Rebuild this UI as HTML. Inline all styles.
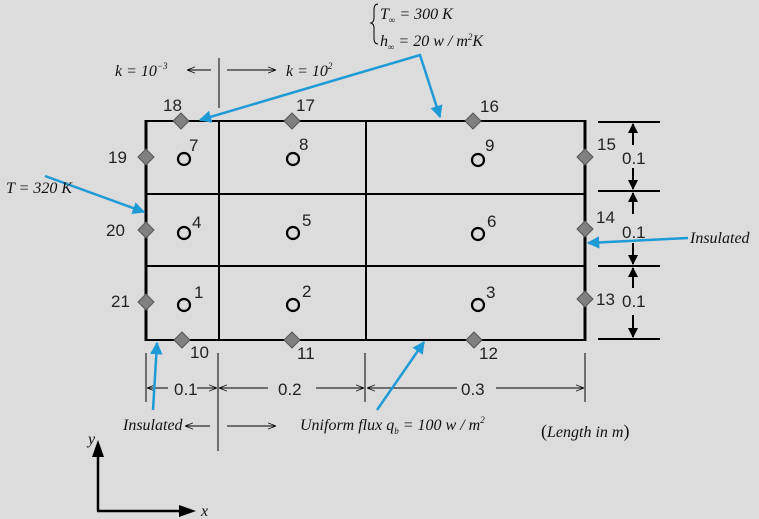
<!DOCTYPE html>
<html><head><style>
html,body{margin:0;padding:0;background:#dcdcdc;}
svg{display:block;}
.n{font-family:"Liberation Sans",sans-serif;font-size:17px;fill:#222;}
.i{font-family:"Liberation Serif",serif;font-style:italic;font-size:16px;fill:#111;}
</style></head><body>
<svg width="759" height="519" viewBox="0 0 759 519" xmlns="http://www.w3.org/2000/svg">
<defs>
<marker id="bh" viewBox="0 0 10 10" refX="9" refY="5" markerWidth="5" markerHeight="5" orient="auto-start-reverse"><path d="M0,0L10,5L0,10z" fill="#1e9ad6"/></marker>
<marker id="kh" viewBox="0 0 10 10" refX="9" refY="5" markerWidth="5" markerHeight="5" orient="auto"><path d="M0,0L10,5L0,10z" fill="#000"/></marker>
<marker id="sa" viewBox="0 0 10 10" refX="9" refY="5" markerWidth="8" markerHeight="8" orient="auto"><path d="M0,1L10,5L0,9" fill="none" stroke="#000" stroke-width="1"/></marker>
</defs>
<rect width="759" height="519" fill="#dcdcdc"/>
<g stroke="#000" stroke-width="2" fill="none">
<line x1="146" y1="121" x2="585" y2="121"/>
<line x1="146" y1="194" x2="585" y2="194"/>
<line x1="146" y1="266" x2="585" y2="266"/>
<line x1="146" y1="340" x2="585" y2="340"/>
<line x1="219" y1="121" x2="219" y2="340"/>
<line x1="366" y1="121" x2="366" y2="340"/>
<line x1="146" y1="120" x2="146" y2="341" stroke-width="3"/>
<line x1="585" y1="120" x2="585" y2="341" stroke-width="3"/>
</g>
<g fill="#808080" stroke="#555" stroke-width="1">
<path d="M181,113l8,8l-8,8l-8,-8z"/><path d="M292,113l8,8l-8,8l-8,-8z"/><path d="M473,113l8,8l-8,8l-8,-8z"/>
<path d="M146,149l8,8l-8,8l-8,-8z"/><path d="M146,222l8,8l-8,8l-8,-8z"/><path d="M146,294l8,8l-8,8l-8,-8z"/>
<path d="M585,149l8,8l-8,8l-8,-8z"/><path d="M585,221l8,8l-8,8l-8,-8z"/><path d="M585,291l8,8l-8,8l-8,-8z"/>
<path d="M182,332l8,8l-8,8l-8,-8z"/><path d="M292,332l8,8l-8,8l-8,-8z"/><path d="M474,332l8,8l-8,8l-8,-8z"/>
</g>
<g fill="none" stroke="#000" stroke-width="2.2">
<circle cx="184" cy="159" r="6"/><circle cx="293" cy="159" r="6"/><circle cx="478" cy="160" r="6"/>
<circle cx="184" cy="233" r="6"/><circle cx="293" cy="233" r="6"/><circle cx="478" cy="234" r="6"/>
<circle cx="184" cy="305" r="6"/><circle cx="293" cy="305" r="6"/><circle cx="478" cy="305" r="6"/>
</g>
<g class="n">
<text x="189" y="151">7</text><text x="299" y="150">8</text><text x="485" y="151">9</text>
<text x="192" y="228">4</text><text x="302" y="226">5</text><text x="487" y="227">6</text>
<text x="194" y="298">1</text><text x="302" y="297">2</text><text x="486" y="298">3</text>
<text x="163" y="111">18</text><text x="296" y="111">17</text><text x="480" y="112">16</text>
<text x="108" y="163">19</text><text x="106" y="236">20</text><text x="111" y="307">21</text>
<text x="597" y="150">15</text><text x="596" y="223">14</text><text x="596" y="305">13</text>
<text x="190" y="358">10</text><text x="297" y="359">11</text><text x="479" y="359">12</text>
<text x="622" y="164">0.1</text><text x="622" y="238">0.1</text><text x="622" y="307">0.1</text>
<text x="174" y="395">0.1</text><text x="278" y="395">0.2</text><text x="461" y="395">0.3</text>
</g>
<g stroke="#000" stroke-width="2">
<line x1="598" y1="122" x2="660" y2="122"/><line x1="598" y1="191" x2="660" y2="191"/>
<line x1="598" y1="266" x2="660" y2="266"/><line x1="598" y1="339" x2="660" y2="339"/>
</g>
<g stroke="#000" stroke-width="2" marker-end="url(#kh)">
<line x1="633" y1="145" x2="633" y2="124"/><line x1="633" y1="168" x2="633" y2="189"/>
<line x1="633" y1="214" x2="633" y2="193"/><line x1="633" y1="243" x2="633" y2="264"/>
<line x1="633" y1="288" x2="633" y2="268"/><line x1="633" y1="315" x2="633" y2="337"/>
</g>
<g stroke="#000" stroke-width="1" fill="none">
<line x1="146" y1="353" x2="146" y2="402"/><line x1="218" y1="353" x2="218" y2="451"/>
<line x1="365" y1="353" x2="365" y2="402"/><line x1="585" y1="353" x2="585" y2="402"/>
<line x1="219" y1="58" x2="219" y2="108"/>
<line x1="168" y1="388" x2="148" y2="388" marker-end="url(#sa)"/>
<line x1="197" y1="388" x2="216" y2="388" marker-end="url(#sa)"/>
<line x1="268" y1="388" x2="220" y2="388" marker-end="url(#sa)"/>
<line x1="316" y1="388" x2="363" y2="388" marker-end="url(#sa)"/>
<line x1="457" y1="388" x2="368" y2="388" marker-end="url(#sa)"/>
<line x1="496" y1="388" x2="583" y2="388" marker-end="url(#sa)"/>
<line x1="210" y1="426" x2="186" y2="426" marker-end="url(#sa)"/>
<line x1="227" y1="426" x2="275" y2="426" marker-end="url(#sa)"/>
<line x1="211" y1="70" x2="188" y2="70" marker-end="url(#sa)"/>
<line x1="227" y1="70" x2="275" y2="70" marker-end="url(#sa)"/>
<path d="M378,4 q-4,0 -4,6 v8 q0,4 -3,5 q3,1 3,5 v10 q0,6 4,6"/>
</g>
<g stroke="#000" stroke-width="2.5">
<line x1="98" y1="511" x2="98" y2="455"/><line x1="97" y1="511" x2="180" y2="511"/>
</g>
<path d="M98,440l-6,17h12z" fill="#000"/><path d="M196,511l-17,-6v12z" fill="#000"/>
<text class="i" x="88" y="444">y</text><text class="i" x="201" y="516">x</text>
<g stroke="#1e9ad6" stroke-width="2.5" fill="none">
<polyline points="200,120 420,55 440,117" marker-start="url(#bh)" marker-end="url(#bh)"/>
<line x1="45" y1="176" x2="144" y2="212" marker-end="url(#bh)"/>
<line x1="688" y1="238" x2="588" y2="243" marker-end="url(#bh)"/>
<line x1="153" y1="410" x2="157" y2="343" marker-end="url(#bh)"/>
<line x1="377" y1="410" x2="424" y2="342" marker-end="url(#bh)"/>
</g>
<g class="i">
<text x="380" y="19">T<tspan font-size="9" dy="4">∞</tspan><tspan dy="-4"> = 300 K</tspan></text>
<text x="380" y="46">h<tspan font-size="9" dy="4">∞</tspan><tspan dy="-4"> = 20 w / m</tspan><tspan font-size="9" dy="-6">2</tspan><tspan dy="6">K</tspan></text>
<text x="115" y="76">k = 10<tspan font-size="9" dy="-7">−3</tspan></text>
<text x="286" y="76">k = 10<tspan font-size="9" dy="-7">2</tspan></text>
<text x="6" y="193">T = 320 K</text>
<text x="690" y="243">Insulated</text>
<text x="123" y="430">Insulated</text>
<text x="300" y="430">Uniform flux q<tspan font-size="9" dy="4">b</tspan><tspan dy="-4"> = 100 w / m</tspan><tspan font-size="9" dy="-7">2</tspan></text>
<text x="541" y="437"><tspan font-style="normal" font-size="18">(</tspan>Length in m<tspan font-style="normal" font-size="18">)</tspan></text>
</g>
</svg>
</body></html>
